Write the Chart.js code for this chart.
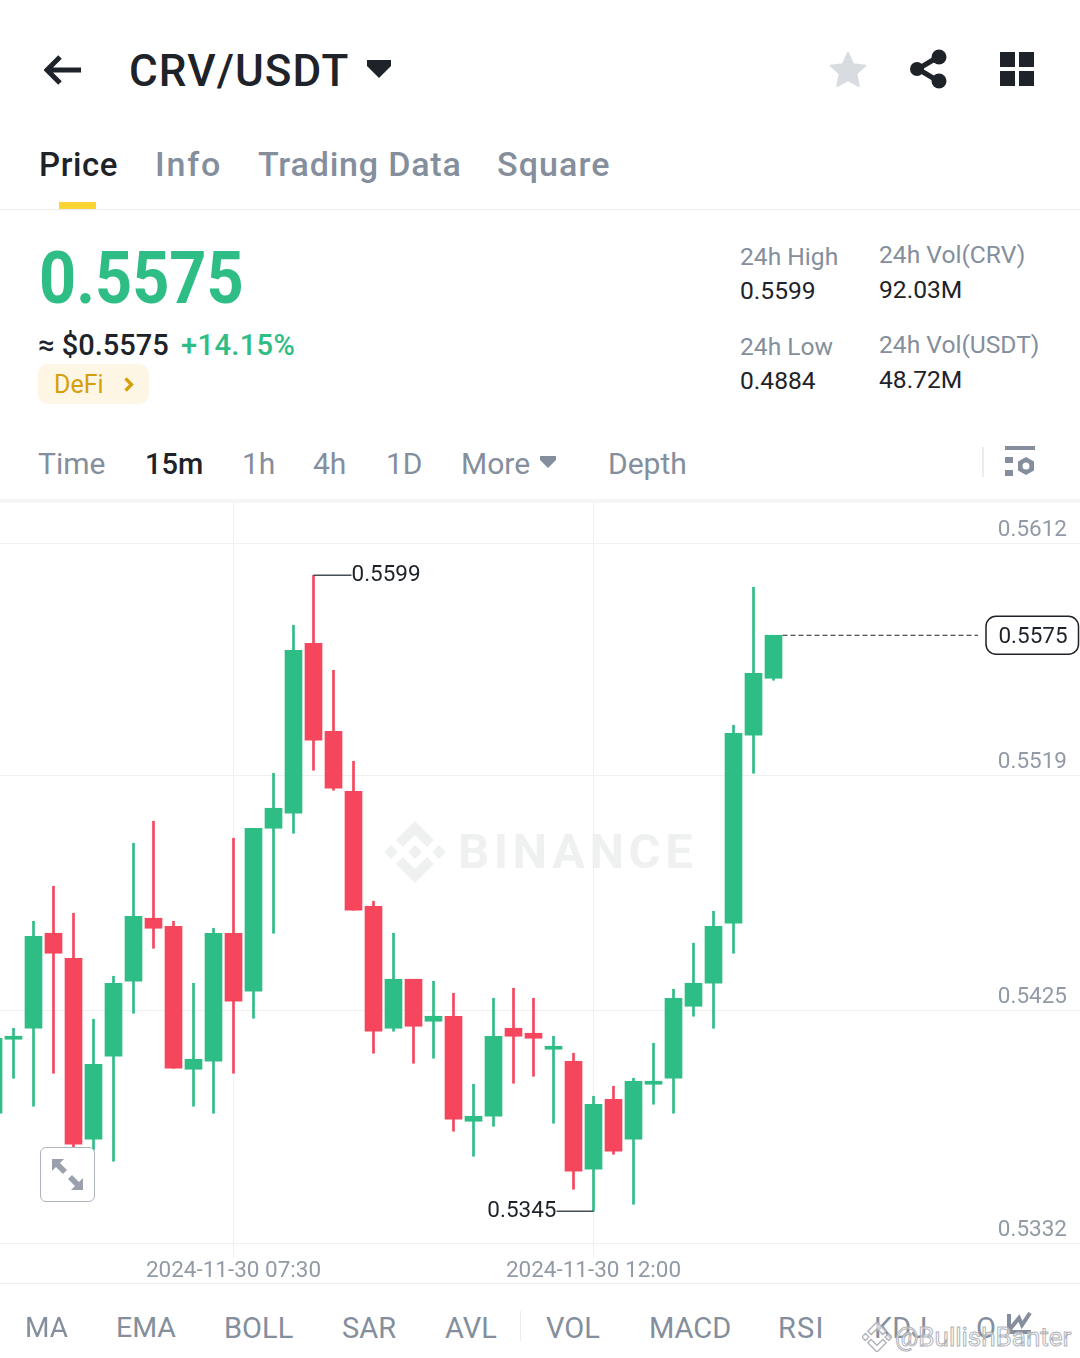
<!DOCTYPE html>
<html>
<head>
<meta charset="utf-8">
<title>CRV/USDT</title>
<script src="https://cdn.jsdelivr.net/npm/chart.js@4"></script>
<style>
    html, body { margin: 0; padding: 0; background: #fff; }
    #page { position: relative; width: 1080px; height: 1358px; overflow: hidden; background: #fff; font-family: Roboto, sans-serif; color: #1e2329; }
    .t { position: absolute; white-space: nowrap; line-height: 40px; height: 40px; }
    .gray { color: #848e9c; }
    .rule { position: absolute; left: 0; width: 1080px; background: #eaecef; }
    .tab { font-size: 34px; font-weight: 500; letter-spacing: 0.8px; }
    .stat { font-size: 24.6px; }
    svg { position: absolute; display: block; }
    #chartBox { position: absolute; left: 0; top: 503px; width: 1080px; height: 780px; }
    #expand { position: absolute; left: 40px; top: 1147px; width: 53px; height: 53px; border: 1.5px solid #aeb4bc; border-radius: 6px; background: #fff; }
    #markWord { position: absolute; left: 458px; top: 822px; line-height: 60px; font-size: 49px; font-weight: 700; letter-spacing: 4.5px; color: #eff1f1; }
    #credit { position: absolute; left: 895px; top: 1317px; line-height: 40px; font-size: 26px; color: rgba(255,255,255,0.55); -webkit-text-stroke: 1px #b0b4ba; white-space: nowrap; }
</style>
</head>
<body>
<div id="page">
    <!-- top bar -->
    <svg style="left:44px;top:55px" width="38" height="30" viewBox="0 0 38 30"><path d="M37 15H4M16 2L3 15l13 13" fill="none" stroke="#1e2329" stroke-width="5"/></svg>
    <div class="t" style="left:129px;top:51px;font-size:44px;font-weight:500;letter-spacing:1.1px">CRV/USDT</div>
    <svg style="left:367px;top:60px" width="24" height="18" viewBox="0 0 24 18"><path d="M0 0H24V6L12 18 0 6z" fill="#1e2329"/></svg>
    <svg style="left:828px;top:50px" width="40" height="40" viewBox="0 0 24 24"><path d="M12 1.5l3.2 6.9 7.4.9-5.5 5.1 1.5 7.4L12 18.1l-6.6 3.7 1.5-7.4-5.5-5.1 7.4-.9z" fill="#d8dbdf" stroke="#d8dbdf" stroke-linejoin="round"/></svg>
    <svg style="left:909px;top:49px" width="38" height="40" viewBox="0 0 38 40"><path d="M9 20L29 8M9 20l20 12" stroke="#1e2329" stroke-width="5"/><circle cx="8" cy="20" r="7" fill="#1e2329"/><circle cx="30" cy="8" r="7.5" fill="#1e2329"/><circle cx="30" cy="32" r="7.5" fill="#1e2329"/></svg>
    <svg style="left:1000px;top:52px" width="34" height="34" viewBox="0 0 34 34" fill="#1e2329"><rect width="15" height="15"/><rect x="19" width="15" height="15"/><rect y="19" width="15" height="15"/><rect x="19" y="19" width="15" height="15"/></svg>

    <!-- tabs -->
    <div class="t" style="left:39px;top:145px;font-size:33px;font-weight:500;letter-spacing:0.6px">Price</div>
    <div class="t gray tab" style="left:155px;top:144px;letter-spacing:1.8px">Info</div>
    <div class="t gray tab" style="left:258px;top:144px">Trading Data</div>
    <div class="t gray tab" style="left:497px;top:144px;letter-spacing:1.1px">Square</div>
    <div style="position:absolute;left:59px;top:202px;width:37px;height:7px;background:#fcd535"></div>
    <div class="rule" style="top:209px;height:1px"></div>

    <!-- price block -->
    <div class="t" style="left:39px;top:259px;font-size:72px;font-weight:700;color:#2ebd85;transform:scaleX(0.9);transform-origin:left center">0.5575</div>
    <div class="t" style="left:38px;top:325px;font-size:29px;font-weight:500">≈ $0.5575</div>
    <div class="t" style="left:181px;top:325px;font-size:29px;font-weight:500;letter-spacing:0.4px;color:#2ebd85">+14.15%</div>
    <div style="position:absolute;left:38px;top:364px;width:111px;height:40px;border-radius:10px;background:#fdf6e4"></div>
    <div class="t" style="left:54px;top:365px;font-size:25px;color:#d49f0b">DeFi</div>
    <svg style="left:123px;top:377px" width="12" height="15" viewBox="0 0 12 15"><path d="M2.5 1.5L8.5 7.500 2.500 13.500" fill="none" stroke="#d49f0b" stroke-width="3.200"/></svg>

    <!-- 24h stats -->
    <div class="t gray stat" style="left:740px;top:237px">24h High</div>
    <div class="t stat" style="left:740px;top:271px">0.5599</div>
    <div class="t gray stat" style="left:879px;top:235px">24h Vol(CRV)</div>
    <div class="t stat" style="left:879px;top:270px">92.03M</div>
    <div class="t gray stat" style="left:740px;top:327px">24h Low</div>
    <div class="t stat" style="left:740px;top:361px">0.4884</div>
    <div class="t gray stat" style="left:879px;top:325px">24h Vol(USDT)</div>
    <div class="t stat" style="left:879px;top:360px">48.72M</div>

    <!-- interval row -->
    <div class="t gray" style="left:38px;top:444px;font-size:30px">Time</div>
    <div class="t" style="left:145px;top:444px;font-size:29px;font-weight:500">15m</div>
    <div class="t gray" style="left:242px;top:444px;font-size:30px">1h</div>
    <div class="t gray" style="left:313px;top:444px;font-size:30px">4h</div>
    <div class="t gray" style="left:386px;top:444px;font-size:30px">1D</div>
    <div class="t gray" style="left:461px;top:444px;font-size:30px">More</div>
    <svg style="left:540px;top:456px" width="16" height="12" viewBox="0 0 16 12"><path d="M0 0H16V4L8 12 0 4z" fill="#848e9c"/></svg>
    <div class="t gray" style="left:608px;top:444px;font-size:30px">Depth</div>
    <div style="position:absolute;left:982px;top:447px;width:2px;height:30px;background:#eaecef"></div>
    <svg style="left:1005px;top:446px" width="30" height="31" viewBox="0 0 30 31" fill="#848e9c"><rect width="30" height="4"/><rect y="11" width="8" height="6"/><rect y="24" width="8" height="6"/><path d="M21 11l8 4.500v9L21 29l-8-4.500v-9z"/><circle cx="21" cy="20" r="3.500" fill="#fff"/></svg>
    <div class="rule" style="top:499px;height:4px;background:#f5f5f5"></div>

    <!-- watermark sits under the transparent canvas -->
    <svg style="left:384px;top:821px" width="62" height="62" viewBox="0 0 126.61 126.61"><path fill="#eff1f1" d="M38.73 53.2L63.3 28.63l24.58 24.58 14.3-14.3L63.3 0 24.42 38.88l14.31 14.32zM0 63.31l14.3-14.31 14.31 14.31-14.31 14.3zM38.73 73.41L63.3 97.98l24.58-24.58 14.31 14.29-.01.01L63.3 126.61 24.43 87.73l-.02-.02zM97.98 63.31l14.3-14.31 14.33 14.31-14.31 14.3zM77.83 63.3L63.3 48.78 52.58 59.51l-1.24 1.23-2.53 2.54-.02.02.02.03L63.3 77.81l14.52-14.51.01-.01z"/></svg>
    <div id="markWord">BINANCE</div>

    <div id="chartBox"><canvas id="klineChart"></canvas></div>

    <div id="expand">
        <svg style="left:10px;top:10px" width="33" height="33" viewBox="0 0 33 33" fill="#9aa1ac"><path d="M1 1H13L9 5 16 12 12 16 5 9 1 13z"/><path d="M32 32H20L24 28 17 21 21 17 28 24 32 20z"/></svg>
    </div>

    <div class="rule" style="top:1283px;height:1px"></div>

    <!-- indicator row -->
    <div class="t gray" style="left:25px;top:1308px;font-size:28px">MA</div>
    <div class="t gray" style="left:116px;top:1308px;font-size:28.500px">EMA</div>
    <div class="t gray" style="left:224px;top:1308px;font-size:29px">BOLL</div>
    <div class="t gray" style="left:342px;top:1308px;font-size:29px">SAR</div>
    <div class="t gray" style="left:445px;top:1308px;font-size:29px">AVL</div>
    <div style="position:absolute;left:520px;top:1311px;width:1px;height:30px;background:#eaecef"></div>
    <div class="t gray" style="left:546px;top:1308px;font-size:29px">VOL</div>
    <div class="t gray" style="left:649px;top:1308px;font-size:29px">MACD</div>
    <div class="t gray" style="left:778px;top:1308px;font-size:29px;letter-spacing:1.2px">RSI</div>
    <div class="t gray" style="left:874px;top:1308px;font-size:29px">KDJ</div>
    <div class="t gray" style="left:976px;top:1308px;font-size:29px">O</div>
    <svg style="left:1007px;top:1312px" width="26" height="24" viewBox="0 0 26 24"><path d="M2 2V20H24M3 17L12 6l3 7 8-12" fill="none" stroke="#848e9c" stroke-width="4"/></svg>

    <!-- reposter mark -->
    <svg style="left:862px;top:1322px" width="30" height="30" viewBox="0 0 126.61 126.61"><path fill="rgba(255,255,255,0.6)" stroke="#b0b4ba" stroke-width="6" d="M38.73 53.2L63.3 28.63l24.58 24.58 14.3-14.3L63.3 0 24.42 38.88l14.31 14.32zM0 63.31l14.3-14.31 14.31 14.31-14.31 14.3zM38.73 73.41L63.3 97.98l24.58-24.58 14.31 14.29-.01.01L63.3 126.61 24.43 87.73l-.02-.02zM97.98 63.31l14.3-14.31 14.33 14.31-14.31 14.3z"/></svg>
    <div id="credit">@BullishBanter</div>
</div>

<script>
// 15m candles, 2024-11-30
const candleTimes = ['04:30', '04:45', '05:00', '05:15', '05:30', '05:45', '06:00', '06:15', '06:30', '06:45',
    '07:00', '07:15', '07:30', '07:45', '08:00', '08:15', '08:30', '08:45', '09:00', '09:15',
    '09:30', '09:45', '10:00', '10:15', '10:30', '10:45', '11:00', '11:15', '11:30', '11:45',
    '12:00', '12:15', '12:30', '12:45', '13:00', '13:15', '13:30', '13:45', '14:00', '14:15'];
const openPrices = [0.5384, 0.54136, 0.5418, 0.5456, 0.5446, 0.53736, 0.54068, 0.54368, 0.5462, 0.54588,
    0.54016, 0.54048, 0.5456, 0.54328, 0.5498, 0.5504, 0.5572, 0.55368, 0.55128, 0.54668,
    0.5418, 0.54376, 0.54208, 0.54228, 0.53808, 0.53828, 0.5418, 0.5416, 0.54096, 0.54048,
    0.53616, 0.53896, 0.53736, 0.53956, 0.5398, 0.54268, 0.5436, 0.546, 0.55352, 0.5558];
const highPrices = [0.54172, 0.5418, 0.54608, 0.54748, 0.5464, 0.54216, 0.54388, 0.5492, 0.55008, 0.54608,
    0.5436, 0.5458, 0.5494, 0.5498, 0.552, 0.55792, 0.55992, 0.55612, 0.55248, 0.54688,
    0.5456, 0.54376, 0.54368, 0.5432, 0.53956, 0.543, 0.5434, 0.543, 0.54148, 0.5408,
    0.53908, 0.53948, 0.5398, 0.5412, 0.54336, 0.5452, 0.54648, 0.55392, 0.55944, 0.55752];
const lowPrices = [0.5384, 0.5398, 0.53868, 0.54, 0.53692, 0.53692, 0.53648, 0.5424, 0.545, 0.5402,
    0.53868, 0.5384, 0.54, 0.5422, 0.5456, 0.5496, 0.55212, 0.55132, 0.54652, 0.5408,
    0.54168, 0.5404, 0.5406, 0.53768, 0.53668, 0.53788, 0.5396, 0.53988, 0.538, 0.53536,
    0.53448, 0.53676, 0.53476, 0.53876, 0.5384, 0.54228, 0.5418, 0.5448, 0.552, 0.55572];
const closePrices = [0.5414, 0.54148, 0.54548, 0.5448, 0.53716, 0.54036, 0.5436, 0.54628, 0.5458, 0.5402,
    0.54056, 0.5456, 0.54288, 0.5498, 0.5506, 0.55692, 0.55332, 0.5514, 0.54652, 0.54168,
    0.54376, 0.54188, 0.54228, 0.53816, 0.53828, 0.54148, 0.54148, 0.5414, 0.54108, 0.53608,
    0.53876, 0.53688, 0.53968, 0.53968, 0.543, 0.5436, 0.54588, 0.5536, 0.556, 0.55752];

const priceTicks = [0.5612, 0.5519, 0.5425, 0.5332];
const timeTicks = ['07:30', '12:00'];
const dateLabel = '2024-11-30';

const UP = '#2ebd85';
const DOWN = '#f6465d';

const toMinutes = t => parseInt(t.slice(0, 2)) * 60 + parseInt(t.slice(3));
const pad = n => String(n).padStart(2, '0');
const isUp = i => closePrices[i] >= openPrices[i];
const candleColors = candleTimes.map((t, i) => isUp(i) ? UP : DOWN);

// high / low callouts and the last price line
const extremeLabels = {
    id: 'extremeLabels',
    afterDatasetsDraw(chart) {
        const { ctx, scales: { x, y } } = chart;
        const hi = highPrices.indexOf(Math.max(...highPrices));
        const lo = lowPrices.indexOf(Math.min(...lowPrices));
        const last = closePrices.length - 1;
        ctx.save();
        ctx.font = "22.5px Roboto, sans-serif";
        ctx.textBaseline = 'middle';
        ctx.fillStyle = '#1e2329';
        ctx.strokeStyle = '#474d57';
        ctx.lineWidth = 1.5;

        const hx = x.getPixelForValue(toMinutes(candleTimes[hi]));
        const hy = y.getPixelForValue(highPrices[hi]);
        ctx.beginPath();
        ctx.moveTo(hx, hy);
        ctx.lineTo(hx + 38, hy);
        ctx.stroke();
        ctx.textAlign = 'left';
        ctx.fillText(highPrices[hi].toFixed(4), hx + 38, hy);

        const lx = x.getPixelForValue(toMinutes(candleTimes[lo]));
        const ly = y.getPixelForValue(lowPrices[lo]);
        ctx.beginPath();
        ctx.moveTo(lx, ly);
        ctx.lineTo(lx - 37, ly);
        ctx.stroke();
        ctx.textAlign = 'right';
        ctx.fillText(lowPrices[lo].toFixed(4), lx - 37, ly);

        // last price
        const ey = y.getPixelForValue(closePrices[last]);
        const ex = x.getPixelForValue(toMinutes(candleTimes[last])) + 9;
        ctx.setLineDash([5, 3]);
        ctx.lineWidth = 1;
        ctx.strokeStyle = '#1e2329';
        ctx.beginPath();
        ctx.moveTo(ex, ey);
        ctx.lineTo(978, ey);
        ctx.stroke();
        ctx.setLineDash([]);
        ctx.lineWidth = 1.5;
        ctx.fillStyle = '#fff';
        ctx.beginPath();
        ctx.roundRect(986, ey - 19, 92.5, 38, 10);
        ctx.fill();
        ctx.stroke();
        ctx.fillStyle = '#1e2329';
        ctx.textAlign = 'center';
        ctx.fillText(closePrices[last].toFixed(4), 1033, ey + 2);
        ctx.restore();
    }
};

const klineChart = new Chart(document.getElementById('klineChart').getContext('2d'), {
    type: 'bar',
    plugins: [extremeLabels],
    data: {
        datasets: [
            {
                label: 'Body',
                data: candleTimes.map((t, i) => ({ x: toMinutes(t), y: [openPrices[i], closePrices[i]] })),
                backgroundColor: candleColors,
                grouped: false,
                categoryPercentage: 1,
                barPercentage: 1,
                maxBarThickness: 17,
                order: 1
            },
            {
                label: 'Wick',
                data: candleTimes.map((t, i) => ({ x: toMinutes(t), y: [lowPrices[i], highPrices[i]] })),
                backgroundColor: candleColors,
                grouped: false,
                categoryPercentage: 1,
                barPercentage: 1,
                maxBarThickness: 2,
                order: 2
            }
        ]
    },
    options: {
        responsive: true,
        maintainAspectRatio: false,
        animation: false,
        devicePixelRatio: 1,
        layout: { padding: 0 },
        plugins: { legend: { display: false }, tooltip: { enabled: false } },
        scales: {
            x: {
                type: 'linear',
                offset: false,
                min: 274.875,
                max: 1084.875,
                afterBuildTicks: scale => { scale.ticks = timeTicks.map(t => ({ value: toMinutes(t) })); },
                afterFit: scale => { scale.height = 26; scale.paddingLeft = 0; scale.paddingRight = 0; },
                grid: { offset: false, color: '#eef0f2', drawTicks: false, lineWidth: 1 },
                border: { display: false },
                ticks: {
                    autoSkip: false,
                    maxRotation: 0,
                    padding: 1,
                    color: '#929aa5',
                    font: { family: 'Roboto, sans-serif', size: 22.5 },
                    callback: v => dateLabel + ' ' + pad(Math.floor(v / 60)) + ':' + pad(v % 60)
                }
            },
            y: {
                position: 'right',
                min: 0.53265,
                max: 0.56281,
                afterBuildTicks: scale => { scale.ticks = priceTicks.map(v => ({ value: v })); },
                afterFit: scale => { scale.width = 0; scale.paddingTop = 0; scale.paddingBottom = 0; },
                grid: { color: '#eef0f2', drawTicks: false, lineWidth: 1 },
                border: { display: false },
                ticks: {
                    mirror: true,
                    padding: -13,
                    labelOffset: -13,
                    color: '#929aa5',
                    font: { family: 'Roboto, sans-serif', size: 22.5 },
                    callback: v => v.toFixed(4)
                }
            }
        }
    }
});
</script>
</body>
</html>
